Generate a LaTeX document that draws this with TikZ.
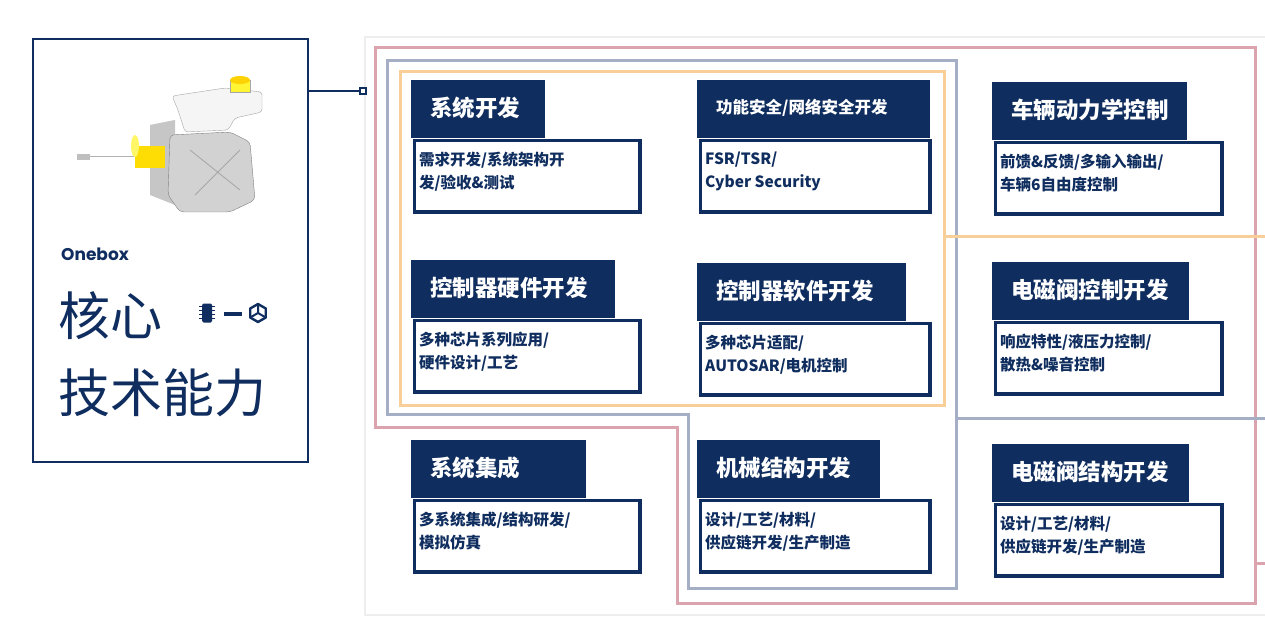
\documentclass[tikz,border=0pt]{standalone}
\usepackage{fontspec}
\setmainfont{Noto Sans CJK SC}
\newfontfamily\popb{Poppins}[UprightFont=* Bold]
\usetikzlibrary{calc}
\definecolor{navy}{HTML}{0F2D5E}
\definecolor{pinkl}{HTML}{DBA3AE}
\definecolor{grayl}{HTML}{A4AEC4}
\definecolor{orl}{HTML}{F8CF98}
\definecolor{bgl}{HTML}{EEEEEE}
\tikzset{
 bdy/.style={draw=navy,line width=3.6pt,fill=white,anchor=north west,inner sep=0pt},
 frame/.style={line width=3pt},
}
% #1 name, #2 x, #3 title top, #4 title right, #5 body right, #6 title, #7 body, #8 title size
\newcommand\mycard[8]{%
 \fill[navy] (#2,#3) rectangle (#4,{#3+58});
 \node[anchor=west,text=white,font=\bfseries\fontsize{#8}{22}\selectfont,inner sep=0pt] (#1l) at ({#2+19},{#3+28}) {#6};
 \node[bdy,minimum width={(#5-#2-3.6)*1pt},minimum height={(71.4)*1pt}] (#1b) at ({#2+1.8},{#3+58.8}) {};
 \node[anchor=north west,text=navy,font=\bfseries\fontsize{15.5}{23}\selectfont,align=left,inner sep=0pt] (#1x) at ({#2+8},{#3+72}) {#7};
}
\begin{document}
\begin{tikzpicture}[x=1pt,y=-1pt]
\useasboundingbox (0,0) rectangle (1265,644);
\fill[white] (0,0) rectangle (1265,644);
% background panel
\draw[bgl,line width=2pt,fill=white] (365,37) rectangle (1275,615);
% frames
\draw[pinkl,frame] (375,48) -- (1255,48) -- (1255,603) -- (677,603) -- (677,427) -- (375,427) -- cycle;
\draw[pinkl,frame] (1255,563) -- (1265,563);
\draw[grayl,frame] (387,61) -- (956,61) -- (956,588) -- (688,588) -- (688,414) -- (387,414) -- cycle;
\draw[grayl,frame] (956,418) -- (1265,418);
\draw[orl,frame] (400,72) -- (944,72) -- (944,405) -- (400,405) -- cycle;
\draw[orl,frame] (944,237) -- (1265,237);
% cards
\mycard{a}{411}{80}{545}{640}{系统开发}{需求开发/系统架构开\\发/验收\&测试}{22.5}
\mycard{b}{697}{80}{930}{930}{功能安全/网络安全开发}{FSR/TSR/\\Cyber Security}{16.5}
\mycard{c}{992}{82}{1187}{1222}{车辆动力学控制}{前馈\&反馈/多输入输出/\\车辆6自由度控制}{22.5}
\mycard{d}{411}{260}{615}{640}{控制器硬件开发}{多种芯片系列应用/\\硬件设计/工艺}{22.5}
\mycard{e}{697}{263}{906}{930}{控制器软件开发}{多种芯片适配/\\AUTOSAR/电机控制}{22.5}
\mycard{f}{992}{262}{1189}{1222}{电磁阀控制开发}{响应特性/液压力控制/\\散热\&噪音控制}{22.5}
\mycard{g}{411}{440}{586}{640}{系统集成}{多系统集成/结构研发/\\模拟仿真}{22.5}
\mycard{h}{697}{440}{880}{930}{机械结构开发}{设计/工艺/材料/\\供应链开发/生产制造}{22.5}
\mycard{i}{992}{444}{1189}{1222}{电磁阀结构开发}{设计/工艺/材料/\\供应链开发/生产制造}{22.5}
% left panel
\node[draw=navy,line width=2pt,anchor=north west,minimum width=275pt,minimum height=423pt,inner sep=0pt] (panel) at (32,38) {};
\coordinate (sq) at (363,91);
\draw[navy,line width=1.6pt] (panel.east |- sq) -- (sq);
\node[draw=navy,line width=1.4pt,fill=white,minimum size=6pt,inner sep=0pt] (sqn) at (sq) {};
% device sketch
\draw[gray!60,line width=1pt] (77,157) -- (140,157);
\fill[gray!50] (77,154) rectangle (90,160);
\fill[gray!45] (150,125) -- (175,120) -- (175,205) -- (150,195) -- cycle;
\draw[gray,fill=gray!35,rounded corners=4pt] (170,135) -- (230,132) -- (250,142) -- (255,200) -- (230,212) -- (180,212) -- (168,195) -- cycle;
\draw[gray!70,line width=0.8pt] (190,150) -- (240,190) (240,150) -- (195,195);
\fill[yellow!80!orange] (135,146) rectangle (165,168);
\fill[yellow!60] (135,146) ellipse (4 and 11);
\draw[gray!70,fill=gray!8,rounded corners=3pt] (172,96) -- (225,88) -- (262,92) -- (262,112) -- (235,118) -- (228,130) -- (185,132) -- (178,110) -- cycle;
\draw[gray!70,fill=yellow!80] (230,80) rectangle (250,92);
\fill[yellow!70!orange] (240,80) ellipse (10 and 4);
% texts
\node[anchor=west,text=navy,inner sep=0pt,font=\popb\fontsize{17}{18}\selectfont] (onebox) at (61,254) {Onebox};
\node[anchor=west,text=navy,inner sep=0pt,font=\fontsize{52}{56}\selectfont] (hx) at (58,316) {核心};
\node[anchor=west,text=navy,inner sep=0pt,font=\fontsize{52}{56}\selectfont] (js) at (58,393) {技术能力};
% icons
\node[fill=navy,rounded corners=1.5pt,minimum width=10pt,minimum height=19pt,inner sep=0pt] (chip) at (207,313) {};
\foreach \yy in {306,310,314,318}{\draw[navy,line width=0.8pt] (199,\yy) -- (215,\yy);}
\coordinate (cube) at (258,313);
\draw[navy,line width=3.5pt] (224,314) -- (242,314);
\draw[navy,line width=2.4pt,line join=round] ($(cube)+(90:9)$) -- ($(cube)+(30:9)$) -- ($(cube)+(-30:9)$) -- ($(cube)+(-90:9)$) -- ($(cube)+(-150:9)$) -- ($(cube)+(150:9)$) -- cycle;
\draw[navy,line width=2pt,line join=round] ($(cube)+(150:9)$) -- (cube) -- ($(cube)+(30:9)$) (cube) -- ($(cube)+(-90:9)$);
\end{tikzpicture}
\end{document}
